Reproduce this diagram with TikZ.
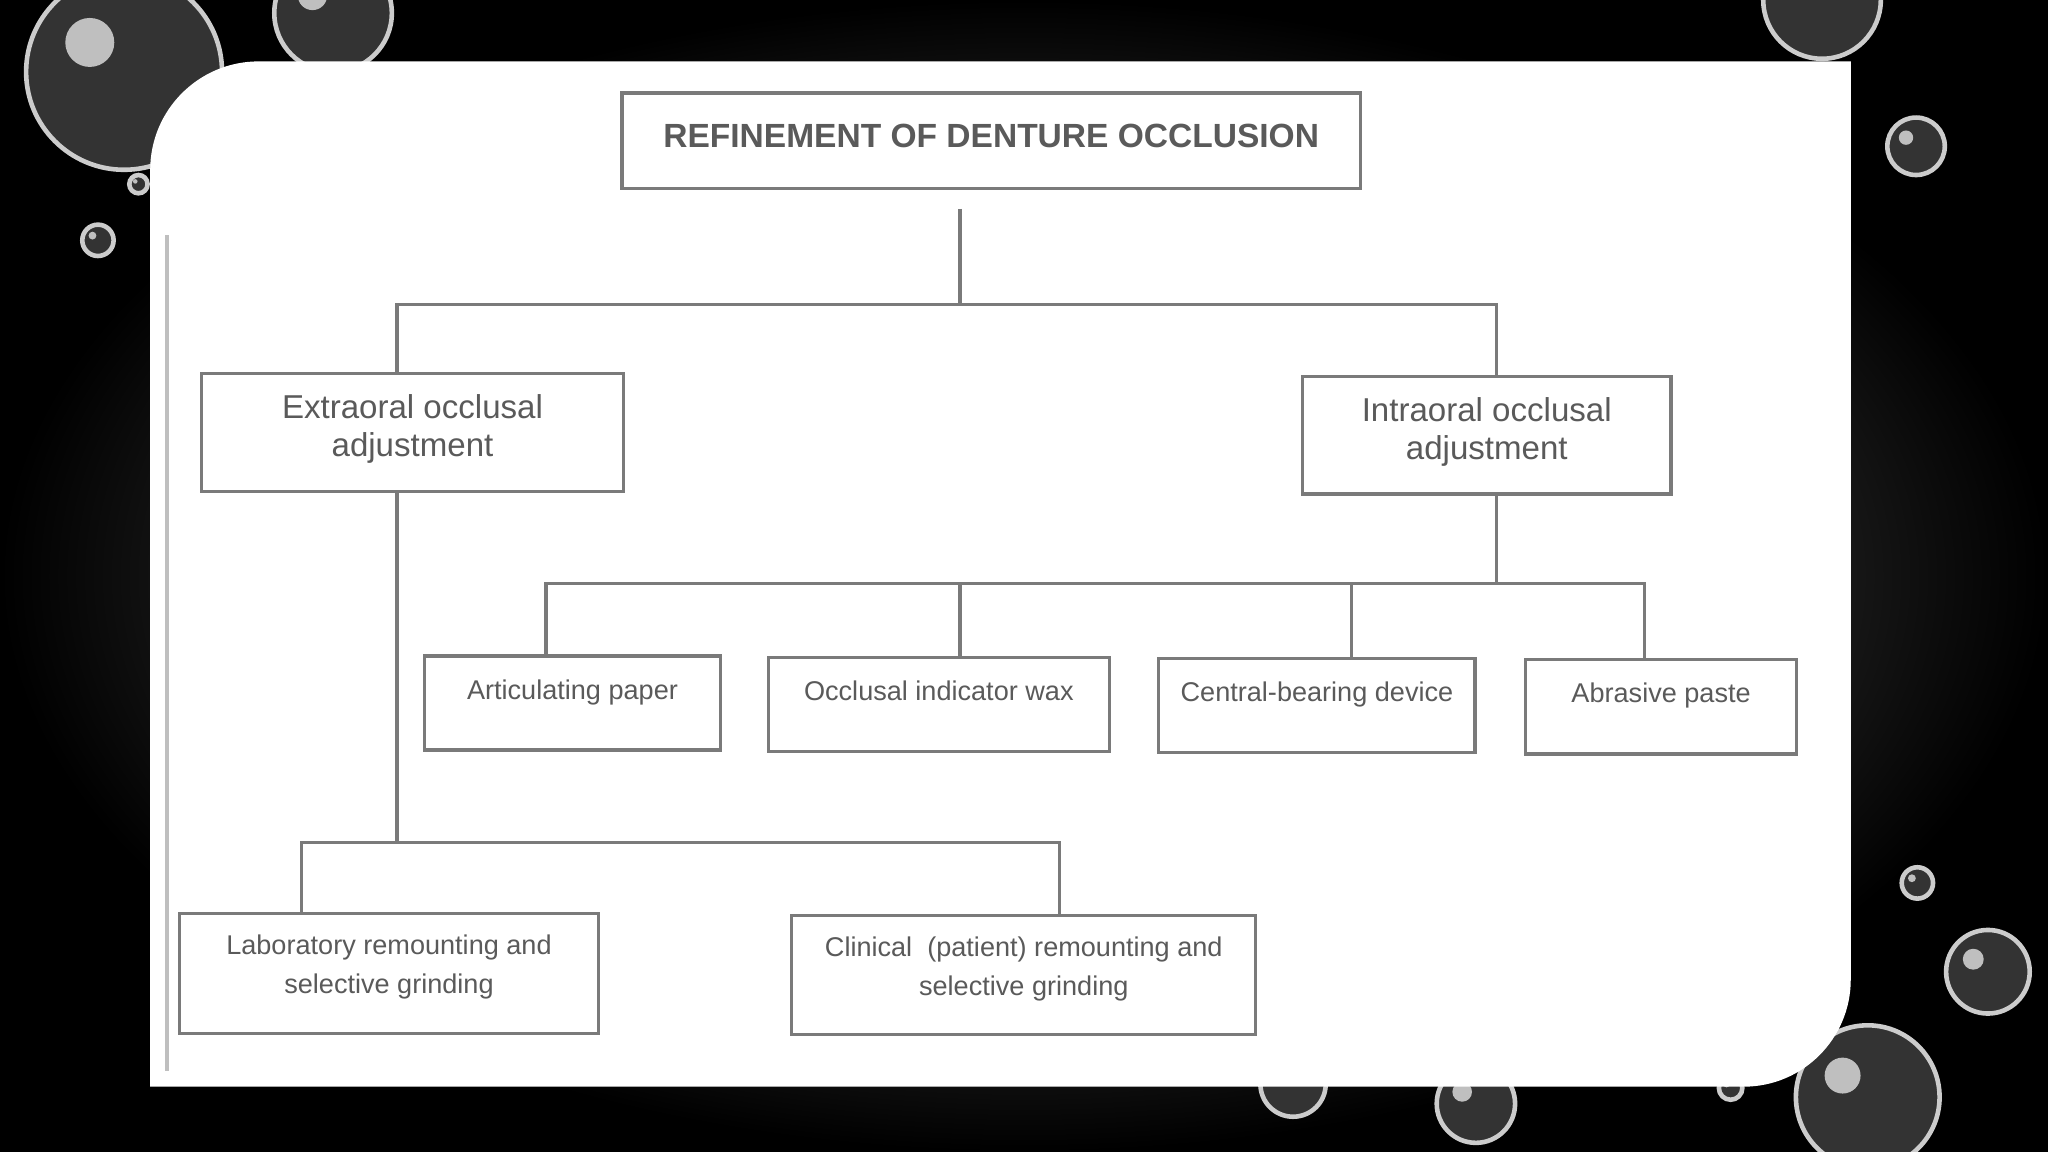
\documentclass[tikz,border=0pt]{standalone}
\usepackage{fontspec}
\setmainfont{Liberation Sans}
\definecolor{ink}{HTML}{5A5A5A}
\definecolor{edge}{HTML}{7A7A7A}
\tikzset{
  box/.style={draw=edge,line width=0.7pt,text=ink,align=center,inner sep=0pt,anchor=north west},
  conn/.style={draw=edge,line width=0.7pt},
  bubble/.style={draw=white!80!black,line width=1pt,fill=black!80!white}
}
\begin{document}
\begin{tikzpicture}[x=0.01cm,y=-0.01cm]
\useasboundingbox (0,0) rectangle (1568,882);
\shade[inner color=black!55!white,outer color=black] (0,0) rectangle (1568,882);
% bubbles
\foreach \x/\y/\r in {95/55/75,255/10/45,1395/0/45,1467/112/22,75/184/12,106/141/7,1468/676/12,1522/744/32,1430/840/55,1130/845/30,1325/833/9,990/830/25}{
  \filldraw[bubble] (\x,\y) circle (\r);
  \fill[white!75!black] (\x-\r*0.35,\y-\r*0.3) circle (\r*0.25);
}
% panel
\fill[white] (115,832) [rounded corners=0.83cm] -- (115,47) [sharp corners] -- (1417,47) [rounded corners=0.82cm] -- (1417,832) [sharp corners] -- cycle;
\draw[black!25,line width=0.8pt] (128,180) -- (128,820);
% nodes
\node[box,minimum width=5.65cm,minimum height=0.73cm,font=\fontsize{7.3}{9}\selectfont\bfseries] (t) at (475,70) {\raisebox{2pt}{REFINEMENT OF DENTURE OCCLUSION}};
\node[box,minimum width=3.23cm,minimum height=0.9cm,font=\fontsize{7.2}{9.5}\selectfont] (ex) at (153,285) {\raisebox{3pt}{\shortstack{Extraoral occlusal\\adjustment}}};
\node[box,minimum width=2.82cm,minimum height=0.9cm,font=\fontsize{7.2}{9.5}\selectfont] (in) at (996,287) {\raisebox{3pt}{\shortstack{Intraoral occlusal\\adjustment}}};
\tikzset{small/.style={box,minimum height=0.72cm,font=\fontsize{5.9}{7.5}\selectfont}}
\node[small,minimum width=2.26cm] (a) at (324,501) {\raisebox{6pt}{Articulating paper}};
\node[small,minimum width=2.61cm] (b) at (587,502) {\raisebox{6pt}{Occlusal indicator wax}};
\node[small,minimum width=2.42cm] (c) at (886,503) {\raisebox{6pt}{Central-bearing device}};
\node[small,minimum width=2.07cm] (d) at (1167,504) {\raisebox{6pt}{Abrasive paste}};
\node[box,minimum width=3.21cm,minimum height=0.92cm,font=\fontsize{5.9}{7.5}\selectfont] (l) at (136,698) {\raisebox{4pt}{\shortstack{Laboratory remounting and\\selective grinding}}};
\node[box,minimum width=3.55cm,minimum height=0.91cm,font=\fontsize{5.9}{7.5}\selectfont] (cl) at (605,700) {\raisebox{4pt}{\shortstack{Clinical \ (patient) remounting and\\selective grinding}}};
% connectors
\coordinate (s) at (735,160);
\draw[conn] (s) -- (735,233);
\draw[conn] (ex.north -| 304,0) -- (304,233) -- (1146,233) -- (in.north -| 1146,0);
\draw[conn] (in.south -| 1146,0) -- (1146,447);
\draw[conn] (a.north -| 418,0) -- (418,447) -- (1259,447) -- (d.north -| 1259,0);
\draw[conn] (735,447) -- (b.north -| 735,0);
\draw[conn] (1035,447) -- (c.north -| 1035,0);
\draw[conn] (ex.south -| 304,0) -- (304,645);
\draw[conn] (l.north -| 231,0) -- (231,645) -- (811,645) -- (cl.north -| 811,0);
\end{tikzpicture}
\end{document}
